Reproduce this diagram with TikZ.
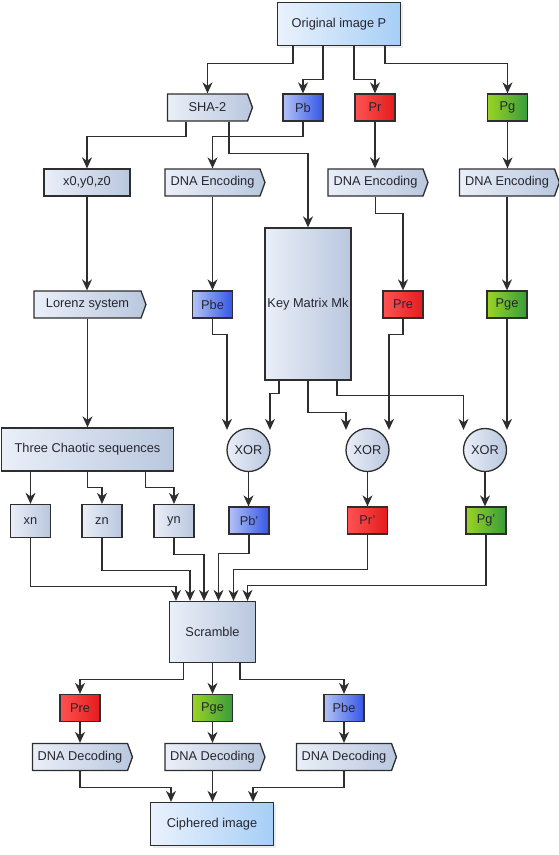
\documentclass[tikz,border=0pt]{standalone}
\usepackage{fontspec}
\setmainfont{Liberation Sans}
\usetikzlibrary{arrows.meta,shapes.symbols,shadows}
\definecolor{edge}{HTML}{2E2E2E}
\definecolor{ink}{HTML}{26262F}
\definecolor{greyL}{HTML}{EAEFF8}
\definecolor{greyR}{HTML}{B9C7DE}
\definecolor{imgL}{HTML}{EAF2FC}
\definecolor{imgR}{HTML}{A6CEF6}
\definecolor{blueL}{HTML}{B3C3F6}
\definecolor{blueR}{HTML}{3556E6}
\definecolor{redL}{HTML}{FF5252}
\definecolor{redR}{HTML}{E41C1C}
\definecolor{greenL}{HTML}{9AD424}
\definecolor{greenR}{HTML}{389C3C}
\begin{document}
\begin{tikzpicture}[
  x=1pt, y=-1pt,
  base/.style={draw=edge, line width=1.3pt, inner sep=0pt, text=ink, font=\fontsize{12.8}{14}\selectfont},
  block/.style={base, rectangle, left color=greyL, right color=greyR, minimum width=#1, minimum height=27pt},
  block/.default=86pt,
  tag/.style={base, signal, signal to=east, signal pointer angle=140, left color=greyL, right color=greyR, minimum width=#1, minimum height=27pt},
  tag/.default=100pt,
  chan/.style={base, rectangle, minimum width=40pt, minimum height=27pt},
  bluech/.style={chan, left color=blueL, right color=blueR},
  redch/.style={chan, left color=redL, right color=redR},
  greench/.style={chan, left color=greenL, right color=greenR},
  seq/.style={block=40pt, minimum height=33pt},
  xorgate/.style={base, circle, minimum size=43pt, left color=greyL, right color=greyR},
  picbox/.style={base, rectangle, left color=imgL, right color=imgR, minimum width=123pt, minimum height=43pt,
    drop shadow={opacity=0.15, shadow xshift=2pt, shadow yshift=-2pt}},
  link/.style={-{Stealth[length=11pt,width=10pt,inset=3.5pt]}, line width=1.3pt, draw=edge}
]
\useasboundingbox (0,0) rectangle (559,855);

\node[picbox] (orig) at (339,24) {Original image P};
\node[tag=85pt] (sha) at (207.5,107.5) {SHA-2};
\node[bluech] (pb) at (303,107.5) {Pb};
\node[redch] (pr) at (375,107.5) {Pr};
\node[greench] (pg) at (507.5,107.5) {Pg};

\node[block] (init) at (87,182.5) {x0,y0,z0};
\node[tag] (enc1) at (212.5,182.5) {DNA Encoding};
\node[tag] (enc2) at (375.5,182.5) {DNA Encoding};
\node[tag] (enc3) at (507,182.5) {DNA Encoding};

\node[block, minimum height=152pt] (kmat) at (308,304) {Key Matrix Mk};
\node[tag=112pt] (lorenz) at (87.5,304.5) {Lorenz system};
\node[bluech] (pbe) at (212.5,304.5) {Pbe};
\node[redch] (pre) at (403,304.5) {Pre};
\node[greench] (pge) at (507,304.5) {Pge};

\node[block=172pt, minimum height=43pt] (three) at (87.5,449.5) {Three Chaotic sequences};
\node[xorgate] (xor1) at (248.5,450) {XOR};
\node[xorgate] (xor2) at (367.5,450) {XOR};
\node[xorgate] (xor3) at (485,450) {XOR};

\node[seq] (xn) at (30.5,521) {xn};
\node[seq] (zn) at (102,521) {zn};
\node[seq] (yn) at (174,521) {yn};
\node[bluech] (pb2) at (249,520.5) {Pb'};
\node[redch] (pr2) at (367.5,520.5) {Pr'};
\node[greench] (pg2) at (486,520.5) {Pg'};

\node[block, minimum height=61pt] (scr) at (212.5,632) {Scramble};

\node[redch] (pre3) at (80,708) {Pre};
\node[greench] (pge3) at (212.5,708) {Pge};
\node[bluech] (pbe3) at (344,708) {Pbe};
\node[tag] (dec1) at (80,757) {DNA Decoding};
\node[tag] (dec2) at (212.5,757) {DNA Decoding};
\node[tag] (dec3) at (344,757) {DNA Decoding};
\node[picbox] (ciph) at (212,824) {Ciphered image};

\draw[link] ([xshift=-46pt]orig.south) -- ++(0,17) -| (sha.north);
\draw[link] ([xshift=-16pt]orig.south) -- ++(0,33) -| (pb.north);
\draw[link] ([xshift=15pt]orig.south) -- ++(0,33) -| (pr.north);
\draw[link] ([xshift=46pt]orig.south) -- ++(0,17) -| (pg.north);

\draw[link] ([xshift=-21.5pt]sha.south) -- ++(0,15) -| (init.north);
\draw[link] ([xshift=21.5pt]sha.south) -- ++(0,32) -| (kmat.north);
\draw[link] (pb.south) -- ++(0,15) -| (enc1.north);
\draw[link] (pr.south) -- (pr.south |- enc2.north);
\draw[link] (pg.south) -- (pg.south |- enc3.north);

\draw[link] (init.south) -- (init.south |- lorenz.north);
\draw[link] (enc1.south) -- (enc1.south |- pbe.north);
\draw[link] (enc2.south) -- ++(0,17) -| (pre.north);
\draw[link] (enc3.south) -- (enc3.south |- pge.north);

\draw[link] (lorenz.south) -- (lorenz.south |- three.north);
\draw[link] (pbe.south) -- ++(0,16) -| ([xshift=-21.5pt,yshift=-2pt]xor1.north);
\draw[link] ([xshift=-29pt]kmat.south) -- ++(0,13) -| ([xshift=21.5pt,yshift=-2pt]xor1.north);
\draw[link] (kmat.south) -- ++(0,32) -| ([xshift=-21.5pt,yshift=-2pt]xor2.north);
\draw[link] (pre.south) -- ++(0,16) -| ([xshift=21.5pt,yshift=-2pt]xor2.north);
\draw[link] ([xshift=29pt]kmat.south) -- ++(0,15) -| ([xshift=-21.5pt,yshift=-2pt]xor3.north);
\draw[link] (pge.south) -- ([xshift=22pt,yshift=-2pt]xor3.north);

\draw[link] (three.south -| xn.north) -- (xn.north);
\draw[link] (three.south) -- ++(0,16) -| (zn.north);
\draw[link] ([xshift=58pt]three.south) -- ++(0,16) -| (yn.north);
\draw[link] (xor1.south) -- (xor1.south |- pb2.north);
\draw[link] (xor2.south) -- (xor2.south |- pr2.north);
\draw[link] (xor3.south) -- (xor3.south |- pg2.north);

\draw[link] (xn.south) -- ++(0,48) -| ([xshift=-36.5pt]scr.north);
\draw[link] (zn.south) -- ++(0,32) -| ([xshift=-22.5pt]scr.north);
\draw[link] (yn.south) -- ++(0,16) -| ([xshift=-8.5pt]scr.north);
\draw[link] (pb2.south) -- ++(0,19) -| ([xshift=6pt]scr.north);
\draw[link] (pr2.south) -- ++(0,35) -| ([xshift=21pt]scr.north);
\draw[link] (pg2.south) -- ++(0,51) -| ([xshift=35pt]scr.north);

\draw[link] ([xshift=-29pt]scr.south) -- ++(0,16) -| (pre3.north);
\draw[link] (scr.south) -- (scr.south |- pge3.north);
\draw[link] ([xshift=27.5pt]scr.south) -- ++(0,16) -| (pbe3.north);
\draw[link] (pre3.south) -- (pre3.south |- dec1.north);
\draw[link] (pge3.south) -- (pge3.south |- dec2.north);
\draw[link] (pbe3.south) -- (pbe3.south |- dec3.north);

\draw[link] (dec1.south) -- ++(0,16) -| ([xshift=-41pt]ciph.north);
\draw[link] (dec2.south) -- (dec2.south |- ciph.north);
\draw[link] (dec3.south) -- ++(0,16) -| ([xshift=41pt]ciph.north);
\end{tikzpicture}
\end{document}
